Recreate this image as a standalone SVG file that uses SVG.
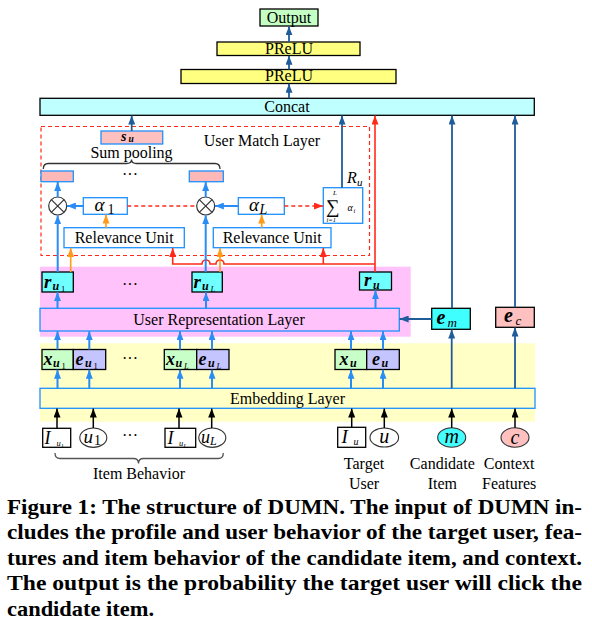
<svg xmlns="http://www.w3.org/2000/svg" width="592" height="621" viewBox="0 0 592 621" font-family="'Liberation Serif', serif">
<style>
.t{font-family:"Liberation Serif","Times New Roman",serif;font-size:16px;fill:#000}
.c{text-anchor:middle}
.mi{font-family:"Liberation Serif","Times New Roman",serif;font-style:italic;fill:#000}
.mb{font-family:"Liberation Serif","Times New Roman",serif;font-style:italic;font-weight:bold;fill:#000}
.mr{font-family:"Liberation Serif","Times New Roman",serif;fill:#000}
.cap{font-family:"Liberation Serif","Times New Roman",serif;font-weight:bold;font-size:21px;fill:#000}
.blu{stroke:#1e90ff;stroke-width:1.3}
.db{fill:none;stroke:#1f5c99;stroke-width:1.8}
.lb{fill:none;stroke:#2a8cf5;stroke-width:2}
.or{fill:none;stroke:#ff9a1a;stroke-width:1.6}
.rd{fill:none;stroke:#ff2a1a;stroke-width:1.6}
.ik{fill:none;stroke:#000;stroke-width:1.5}
</style>
<defs>
<marker id="adb" viewBox="0 0 9 7" refX="9" refY="3.5" markerWidth="9" markerHeight="7" markerUnits="userSpaceOnUse" orient="auto"><path d="M0,0L9,3.5L0,7z" fill="#1f5c99"/></marker>
<marker id="alb" viewBox="0 0 9 7" refX="9" refY="3.5" markerWidth="9" markerHeight="7" markerUnits="userSpaceOnUse" orient="auto"><path d="M0,0L9,3.5L0,7z" fill="#2a8cf5"/></marker>
<marker id="aor" viewBox="0 0 9 7" refX="9" refY="3.5" markerWidth="9" markerHeight="7" markerUnits="userSpaceOnUse" orient="auto"><path d="M0,0L9,3.5L0,7z" fill="#ff9a1a"/></marker>
<marker id="ard" viewBox="0 0 9 7" refX="9" refY="3.5" markerWidth="9" markerHeight="7" markerUnits="userSpaceOnUse" orient="auto"><path d="M0,0L9,3.5L0,7z" fill="#ff2a1a"/></marker>
<marker id="ak" viewBox="0 0 9 7" refX="9" refY="3.5" markerWidth="9" markerHeight="7" markerUnits="userSpaceOnUse" orient="auto"><path d="M0,0L9,3.5L0,7z" fill="#000"/></marker>
</defs>

<!-- background regions -->
<rect x="40" y="266.7" width="370.7" height="70" fill="#ffc2fa"/>
<rect x="40" y="343.3" width="495" height="78.4" fill="#ffffc6"/>

<!-- top stack -->
<g id="output"><rect x="260" y="9" width="58" height="17" fill="#c4ffc4" stroke="#000" stroke-width="1.3"/><text class="t c" x="289" y="22.5">Output</text></g>
<g id="prelu1"><rect x="217" y="42" width="143" height="13.5" fill="#ffff80" stroke="#000" stroke-width="1.3"/><text class="t c" x="289" y="53.5">PReLU</text></g>
<g id="prelu2"><rect x="181" y="69.5" width="215" height="14" fill="#ffff80" stroke="#000" stroke-width="1.3"/><text class="t c" x="289" y="81.3">PReLU</text></g>
<g id="concat"><rect x="40" y="98.3" width="494.3" height="17" fill="#c0ffff" stroke="#000" stroke-width="1.3"/><text class="t c" x="287" y="112.3">Concat</text></g>

<!-- user match layer -->
<g id="user-match-layer">
<rect x="41" y="126.5" width="328.5" height="129" fill="none" stroke="#ff2a1a" stroke-width="1.2" stroke-dasharray="4,3"/>
<text class="t c" x="262" y="145.5">User Match Layer</text>
</g>
<g id="su"><rect x="101" y="131" width="61.7" height="13" fill="#ffc0c0" class="blu"/><text class="mb" x="121" y="141" font-size="14">s</text><text class="mb" x="128.5" y="142.3" font-size="9.5">u</text></g>
<text class="t c" x="131.5" y="157.5" font-size="13">Sum pooling</text>
<path d="M43.3,169 Q43.3,163.5 48.3,163.5 H126.5 Q131.5,163.5 131.5,159.5 Q131.5,163.5 136.5,163.5 H215 Q220,163.5 220,169" fill="none" stroke="#333" stroke-width="1.3"/>
<g id="pool1"><rect x="41" y="171" width="32.3" height="10.7" fill="#ffb8b8" class="blu"/></g>
<g id="poolL"><rect x="189.3" y="171" width="34" height="10.7" fill="#ffb8b8" class="blu"/></g>
<text class="t c" x="130" y="180">···</text>
<g id="otimes1"><circle cx="57.7" cy="206" r="9" fill="#fff" stroke="#333" stroke-width="1.2"/><path d="M51.3,199.6L64.1,212.4M64.1,199.6L51.3,212.4" stroke="#333" stroke-width="1.2"/></g>
<g id="otimesL"><circle cx="205.7" cy="206" r="9" fill="none" stroke="#333" stroke-width="1.2"/><path d="M199.3,199.6L212.1,212.4M212.1,199.6L199.3,212.4" stroke="#333" stroke-width="1.2"/></g>
<g id="alpha1"><rect x="83.3" y="197.7" width="44" height="16.6" fill="#fff" class="blu"/><text class="mi" x="94.5" y="211" font-size="19">α</text><text class="mr" x="107.5" y="213.5" font-size="14">1</text></g>
<g id="alphaL"><rect x="238.3" y="197.7" width="46" height="16.6" fill="#fff" class="blu"/><text class="mi" x="249" y="211" font-size="19">α</text><text class="mi" x="259.5" y="213.5" font-size="14">L</text></g>
<g id="sum"><rect x="323.3" y="187.7" width="39.4" height="35.6" fill="#fff" class="blu"/><text class="mi" x="333" y="194.5" font-size="7">L</text><text class="mr" x="326" y="213" font-size="19">∑</text><text class="mi" x="326.5" y="222" font-size="6.5">i=1</text><text class="mi" x="347.5" y="210.5" font-size="10">α</text><text class="mi" x="353.5" y="212.5" font-size="6.5">i</text></g>
<text class="mi" x="347" y="183" font-size="16">R</text><text class="mi" x="357" y="186" font-size="11">u</text>
<g id="ru1"><rect x="64" y="227.7" width="120.3" height="20" fill="#fff" class="blu"/><text class="t c" x="124.2" y="243">Relevance Unit</text></g>
<g id="ruL"><rect x="213.3" y="227.7" width="117.7" height="20" fill="#fff" class="blu"/><text class="t c" x="272.2" y="243">Relevance Unit</text></g>

<!-- user representation -->
<g id="r-u1"><rect x="42" y="272" width="31.3" height="20" fill="#70ffff" stroke="#000" stroke-width="1.3"/><text class="mb" x="44" y="287.5" font-size="19">r</text><text class="mb" x="52.5" y="290" font-size="12">u</text><text class="mr" x="61" y="292" font-size="8.5">1</text></g>
<g id="r-uL"><rect x="192" y="272" width="30.3" height="20" fill="#70ffff" stroke="#000" stroke-width="1.3"/><text class="mb" x="193.5" y="287.5" font-size="19">r</text><text class="mb" x="202" y="290" font-size="12">u</text><text class="mi" x="210.5" y="292" font-size="8.5">L</text></g>
<text class="t c" x="130" y="290">···</text>
<g id="r-u"><rect x="359.5" y="272" width="32" height="18" fill="#70ffff" stroke="#000" stroke-width="1.3"/><text class="mb" x="364" y="286" font-size="19">r</text><text class="mb" x="373" y="288.5" font-size="12">u</text></g>
<g id="urlayer"><rect x="40" y="308.3" width="359.3" height="22.7" fill="#ffc2fa" class="blu"/><text class="t c" x="219" y="325">User Representation Layer</text></g>
<g id="em"><rect x="431.7" y="308.3" width="38.6" height="21" fill="#40ffff" stroke="#000" stroke-width="1.3"/><text class="mb" x="436.5" y="324" font-size="20">e</text><text class="mi" x="447.5" y="327" font-size="13">m</text></g>
<g id="ec"><rect x="495.7" y="307.3" width="38.6" height="20" fill="#ffc0c0" stroke="#000" stroke-width="1.3"/><text class="mb" x="504" y="322" font-size="20">e</text><text class="mi" x="515.5" y="325" font-size="13">c</text></g>

<!-- embeddings -->
<g id="x-u1"><rect x="42" y="349.5" width="31.3" height="20" fill="#c8ffc8" stroke="#000" stroke-width="1.3"/><text class="mb" x="43.5" y="364.5" font-size="18">x</text><text class="mb" x="53" y="367" font-size="12">u</text><text class="mr" x="61.5" y="369" font-size="8.5">1</text></g>
<g id="e-u1"><rect x="73.3" y="349.5" width="32.4" height="20" fill="#c4c4ff" stroke="#000" stroke-width="1.3"/><text class="mb" x="75.5" y="364.5" font-size="18">e</text><text class="mb" x="85" y="367" font-size="12">u</text><text class="mr" x="93.5" y="369" font-size="8.5">1</text></g>
<text class="t c" x="130" y="364">···</text>
<g id="x-uL"><rect x="164.3" y="349.5" width="32.4" height="20" fill="#c8ffc8" stroke="#000" stroke-width="1.3"/><text class="mb" x="166" y="364.5" font-size="18">x</text><text class="mb" x="175.5" y="367" font-size="12">u</text><text class="mi" x="184" y="369" font-size="8.5">L</text></g>
<g id="e-uL"><rect x="196.7" y="349.5" width="32.3" height="20" fill="#c4c4ff" stroke="#000" stroke-width="1.3"/><text class="mb" x="198.5" y="364.5" font-size="18">e</text><text class="mb" x="208" y="367" font-size="12">u</text><text class="mi" x="216.5" y="369" font-size="8.5">L</text></g>
<g id="x-u"><rect x="335" y="349.5" width="31.7" height="20" fill="#c8ffc8" stroke="#000" stroke-width="1.3"/><text class="mb" x="339.5" y="364.5" font-size="18">x</text><text class="mb" x="350" y="367" font-size="12">u</text></g>
<g id="e-u"><rect x="366.7" y="349.5" width="32.6" height="20" fill="#c4c4ff" stroke="#000" stroke-width="1.3"/><text class="mb" x="372" y="364.5" font-size="18">e</text><text class="mb" x="381.5" y="367" font-size="12">u</text></g>
<g id="embedding"><rect x="40" y="388.3" width="495" height="20" fill="#ffffc6" class="blu"/><text class="t c" x="287.5" y="404">Embedding Layer</text></g>

<!-- inputs -->
<g id="I-u1"><rect x="42.7" y="428.3" width="28" height="19" fill="#fff" stroke="#000" stroke-width="1.3"/><text class="mi" x="44.5" y="444" font-size="18">I</text><text class="mi" x="56.5" y="446" font-size="8.5">u</text><text class="mr" x="61" y="447.5" font-size="6">1</text></g>
<g id="u1"><ellipse cx="93.3" cy="437.7" rx="13.5" ry="9.7" fill="#fff" stroke="#333" stroke-width="1.1"/><text class="mi" x="83.5" y="443" font-size="19">u</text><text class="mr" x="94" y="444.5" font-size="14">1</text></g>
<text class="t c" x="130" y="441">···</text>
<g id="I-uL"><rect x="165" y="428.3" width="30.7" height="19" fill="#fff" stroke="#000" stroke-width="1.3"/><text class="mi" x="167.5" y="444" font-size="18">I</text><text class="mi" x="179" y="446" font-size="8.5">u</text><text class="mi" x="183.5" y="447.5" font-size="6">L</text></g>
<g id="uL"><ellipse cx="212.3" cy="437.7" rx="13.5" ry="9.7" fill="#fff" stroke="#333" stroke-width="1.1"/><text class="mi" x="201" y="443" font-size="18">u</text><text class="mi" x="210" y="444.5" font-size="12">L</text></g>
<path d="M55,453 Q55,458.5 60,458.5 H133.5 Q138.5,458.5 138.5,463.5 Q138.5,458.5 143.5,458.5 H218.3 Q223.3,458.5 223.3,453" fill="none" stroke="#555" stroke-width="1.3"/>
<text class="t c" x="139" y="478.5" font-size="16.5">Item Behavior</text>
<g id="I-u"><rect x="337.7" y="427.3" width="28" height="20" fill="#fff" stroke="#000" stroke-width="1.3"/><text class="mi" x="341.5" y="443" font-size="19">I</text><text class="mi" x="353.5" y="445" font-size="10">u</text></g>
<g id="u"><ellipse cx="384.3" cy="437.5" rx="14.3" ry="9.5" fill="#fff" stroke="#333" stroke-width="1.1"/><text class="mi c" x="384.3" y="443" font-size="20">u</text></g>
<g id="m"><ellipse cx="451.7" cy="437.5" rx="14" ry="9.7" fill="#44ffff" stroke="#333" stroke-width="1.1"/><text class="mi c" x="451.7" y="443" font-size="20">m</text></g>
<g id="c"><ellipse cx="515" cy="437.5" rx="14" ry="9.7" fill="#ffc0c0" stroke="#333" stroke-width="1.1"/><text class="mi c" x="515" y="443.5" font-size="20">c</text></g>
<text class="t c" x="364" y="469" font-size="16.5">Target</text>
<text class="t c" x="364" y="488.5" font-size="16.5">User</text>
<text class="t c" x="442.3" y="469" font-size="16.5">Candidate</text>
<text class="t c" x="442.3" y="488.5" font-size="16.5">Item</text>
<text class="t c" x="509.2" y="469" font-size="16.5">Context</text>
<text class="t c" x="509.2" y="488.5" font-size="16.5">Features</text>

<!-- connectors -->
<g id="connectors">
<path class="db" d="M289,98.3V83.8" marker-end="url(#adb)"/>
<path class="db" d="M289,69.5V55.8" marker-end="url(#adb)"/>
<path class="db" d="M289,42V26.3" marker-end="url(#adb)"/>
<path class="db" d="M131.7,131V115.6" marker-end="url(#adb)"/>
<path class="db" d="M342,187.7V115.6" marker-end="url(#adb)"/>
<path class="db" d="M452,308.3V115.6" marker-end="url(#adb)"/>
<path class="db" d="M515,307.3V115.6" marker-end="url(#adb)"/>
<path class="rd" d="M375,272V115.6" marker-end="url(#ard)"/>
<path class="rd" d="M375,264H224A4,4 0 0 0 216,264H210A4,4 0 0 0 202,264H172.7V248" marker-end="url(#ard)"/>
<path class="rd" d="M323.3,264V248" marker-end="url(#ard)"/>
<path class="rd" d="M127.3,206H196.7" stroke-dasharray="4,3"/>
<path class="rd" d="M284.3,206H323" stroke-dasharray="4,3" marker-end="url(#ard)"/>
<path class="lb" d="M57.7,272V215.2" marker-end="url(#alb)"/>
<path class="lb" d="M205.7,272V215.2" marker-end="url(#alb)"/>
<path class="or" d="M70.7,272V248" marker-end="url(#aor)"/>
<path class="or" d="M220,272V248" marker-end="url(#aor)"/>
<path class="or" d="M106,227.7V214.5" marker-end="url(#aor)"/>
<path class="or" d="M261.7,227.7V214.5" marker-end="url(#aor)"/>
<path class="lb" d="M57.7,197V182" marker-end="url(#alb)"/>
<path class="lb" d="M205.7,197V182" marker-end="url(#alb)"/>
<path class="lb" d="M83.3,206H66.9" marker-end="url(#alb)"/>
<path class="lb" d="M238.3,206H214.9" marker-end="url(#alb)"/>
<path class="lb" d="M57.5,308.3V292.2" marker-end="url(#alb)"/>
<path class="lb" d="M206,308.3V292.2" marker-end="url(#alb)"/>
<path class="lb" d="M375.5,308.3V290.2" marker-end="url(#alb)"/>
<path class="db" d="M431.7,319H399.6" marker-end="url(#adb)"/>
<path class="lb" d="M57.5,349.5V331.2" marker-end="url(#alb)"/>
<path class="lb" d="M89.3,349.5V331.2" marker-end="url(#alb)"/>
<path class="lb" d="M180,349.5V331.2" marker-end="url(#alb)"/>
<path class="lb" d="M212,349.5V331.2" marker-end="url(#alb)"/>
<path class="lb" d="M351,349.5V331.2" marker-end="url(#alb)"/>
<path class="lb" d="M383,349.5V331.2" marker-end="url(#alb)"/>
<path class="lb" d="M57.5,388.3V369.7" marker-end="url(#alb)"/>
<path class="lb" d="M89.3,388.3V369.7" marker-end="url(#alb)"/>
<path class="lb" d="M180,388.3V369.7" marker-end="url(#alb)"/>
<path class="lb" d="M212,388.3V369.7" marker-end="url(#alb)"/>
<path class="lb" d="M351,388.3V369.7" marker-end="url(#alb)"/>
<path class="lb" d="M383,388.3V369.7" marker-end="url(#alb)"/>
<path class="db" d="M451.7,388.3V329.5" marker-end="url(#adb)"/>
<path class="db" d="M515,388.3V327.5" marker-end="url(#adb)"/>
<path class="ik" d="M57,428.3V408.5" marker-end="url(#ak)"/>
<path class="ik" d="M93.3,428V408.5" marker-end="url(#ak)"/>
<path class="ik" d="M179,428.3V408.5" marker-end="url(#ak)"/>
<path class="ik" d="M211.7,428V408.5" marker-end="url(#ak)"/>
<path class="ik" d="M351.7,427.3V408.5" marker-end="url(#ak)"/>
<path class="ik" d="M384.3,428V408.5" marker-end="url(#ak)"/>
<path class="ik" d="M451.7,427.8V408.5" marker-end="url(#ak)"/>
<path class="ik" d="M515,427.8V408.5" marker-end="url(#ak)"/>
</g>

<!-- caption -->
<text class="cap" x="7" y="513.5" textLength="575" lengthAdjust="spacingAndGlyphs">Figure 1: The structure of DUMN. The input of DUMN in-</text>
<text class="cap" x="7" y="539" textLength="575" lengthAdjust="spacingAndGlyphs">cludes the profile and user behavior of the target user, fea-</text>
<text class="cap" x="7" y="564.5" textLength="575" lengthAdjust="spacingAndGlyphs">tures and item behavior of the candidate item, and context.</text>
<text class="cap" x="7" y="590" textLength="575" lengthAdjust="spacingAndGlyphs">The output is the probability the target user will click the</text>
<text class="cap" x="7" y="615.5" textLength="147" lengthAdjust="spacingAndGlyphs">candidate item.</text>
</svg>
